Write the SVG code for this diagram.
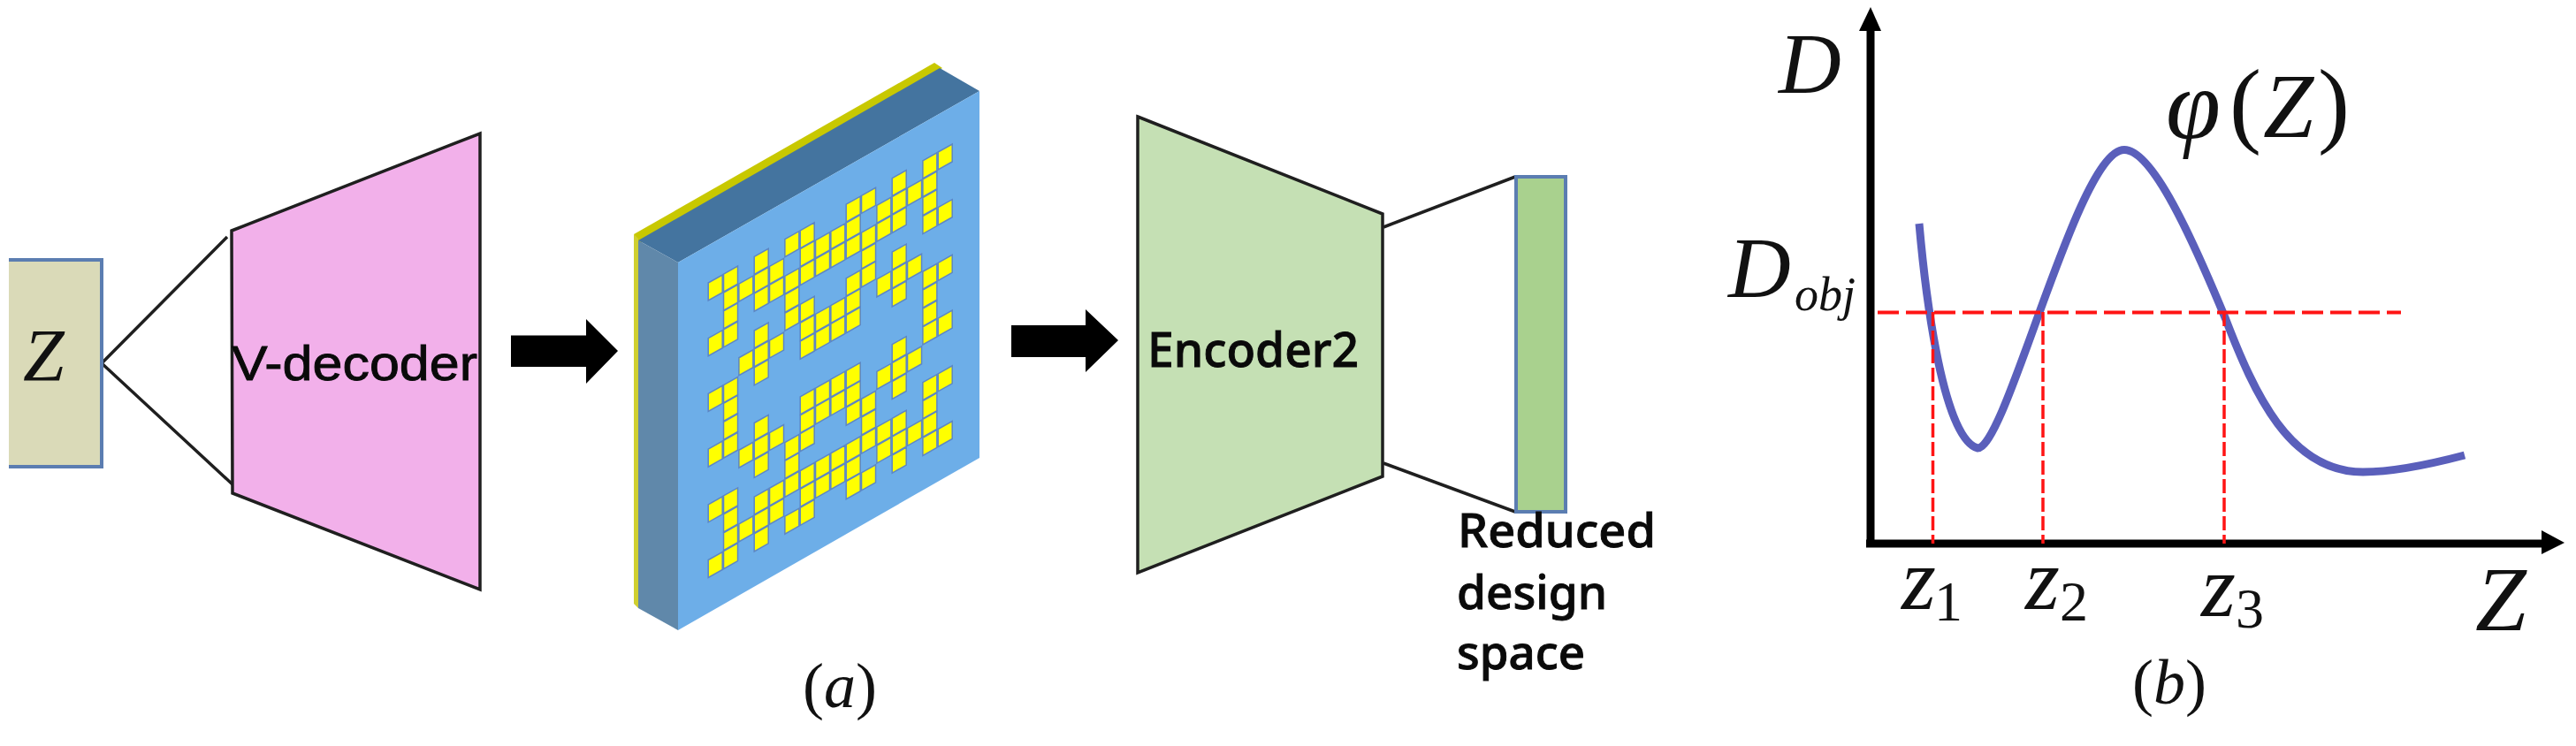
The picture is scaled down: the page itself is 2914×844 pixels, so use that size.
<svg xmlns="http://www.w3.org/2000/svg" width="2914" height="844" viewBox="0 0 2914 844">
<style>
.tr{stroke:#1f1f1f;stroke-width:3.5;stroke-linejoin:miter}
.ln{fill:none;stroke:#1f1f1f;stroke-width:3.5}
.bx{stroke:#5b7db1;stroke-width:4}
.sans{font-family:"Noto Sans","Liberation Sans",sans-serif;fill:#0a0a0a;stroke:#0a0a0a;stroke-width:.9}
.ser{font-family:"Liberation Serif",serif;fill:#111}
.it{font-style:italic}
.dh{fill:none;stroke:#ff1414;stroke-width:4;stroke-dasharray:24 8}
.dv{fill:none;stroke:#ff1414;stroke-width:3.5;stroke-dasharray:16 5}
.cell{fill:#ffff00;stroke:#5d86c4;stroke-width:1.5;stroke-linejoin:miter}
</style>
<defs>
<path id="c" class="cell" d="M-8-5.500L8-14.500V5.500L-8 14.500Z"/>
<g id="A"><use href="#c"/><use href="#c" y="62.7"/><use href="#c" y="125.4"/><use href="#c" y="188.1"/><use href="#c" y="250.8"/><use href="#c" y="313.5"/></g>
<g id="B"><use href="#c"/><use href="#c" y="20.9"/><use href="#c" y="41.8"/><use href="#c" y="62.7"/><use href="#c" y="125.4"/><use href="#c" y="146.3"/><use href="#c" y="167.2"/><use href="#c" y="188.1"/><use href="#c" y="250.8"/><use href="#c" y="271.7"/><use href="#c" y="292.6"/><use href="#c" y="313.5"/></g>
<g id="C"><use href="#c" y="20.9"/><use href="#c" y="104.5"/><use href="#c" y="209"/><use href="#c" y="292.6"/></g>
<g id="D"><use href="#c"/><use href="#c" y="20.9"/><use href="#c" y="41.8"/><use href="#c" y="83.6"/><use href="#c" y="104.5"/><use href="#c" y="125.4"/><use href="#c" y="188.1"/><use href="#c" y="209"/><use href="#c" y="229.9"/><use href="#c" y="271.7"/><use href="#c" y="292.6"/><use href="#c" y="313.5"/></g>
<g id="E"><use href="#c" y="20.9"/><use href="#c" y="41.8"/><use href="#c" y="104.5"/><use href="#c" y="209"/><use href="#c" y="271.7"/><use href="#c" y="292.6"/></g>
<g id="F"><use href="#c"/><use href="#c" y="41.8"/><use href="#c" y="62.7"/><use href="#c" y="83.6"/><use href="#c" y="229.9"/><use href="#c" y="250.8"/><use href="#c" y="271.7"/><use href="#c" y="313.5"/></g>
<g id="G"><use href="#c" y="20.9"/><use href="#c" y="41.8"/><use href="#c" y="104.5"/><use href="#c" y="125.4"/><use href="#c" y="188.1"/><use href="#c" y="209"/><use href="#c" y="271.7"/><use href="#c" y="292.6"/></g>
</defs>
<rect width="2914" height="844" fill="#fff"/>
<g id="connectors">
<path class="ln" d="M257 268L115 411L264 549"/>
<path class="ln" d="M1565 257L1714 200"/>
<path class="ln" d="M1565 524L1714 579"/>
<polygon fill="#000" points="578,379.5 663,379.500 663,361 699,397 663,434 663,415 578,415"/>
<polygon fill="#000" points="1144,368 1228,368 1228,350 1265,385 1228,421 1228,404 1144,404"/>
</g>
<g id="z-input">
<path fill="#dadab8" d="M10 294H115V528H10Z"/>
<path fill="none" class="bx" d="M10 294H115V528H10"/>
<text class="ser it" x="26" y="431" font-size="84">Z</text>
</g>
<g id="v-decoder">
<polygon class="tr" fill="#f2b0ea" points="262,261 543,151 543,667 263,558"/>
<text class="sans" x="262" y="430" font-size="56" style="font-family:'Liberation Sans',sans-serif" textLength="278" lengthAdjust="spacingAndGlyphs">V-decoder</text>
</g>
<g id="metasurface">
<polygon fill="#c8c800" points="717,265 1057,71 1066,77 722,277"/>
<polygon fill="#cfcf30" points="717,265 722,270 722,688 717,683"/>
<polygon fill="#44749f" points="722,272 1063,77 1108,103 767,297"/>
<polygon fill="#6088aa" points="722,272 767,297 767,713 722,688"/>
<polygon fill="#6daee8" points="767,297 1108,103 1108,518 767,713"/>
<g transform="translate(809.2 325.5)">
<use href="#A"/>
<use href="#B" x="17.33" y="-9.87"/>
<use href="#C" x="34.67" y="-19.73"/>
<use href="#D" x="52" y="-29.6"/>
<use href="#E" x="69.33" y="-39.47"/>
<use href="#F" x="86.67" y="-49.33"/>
<use href="#D" x="104" y="-59.2"/>
<use href="#G" x="121.33" y="-69.07"/>
<use href="#G" x="138.67" y="-78.93"/>
<use href="#D" x="156" y="-88.8"/>
<use href="#F" x="173.33" y="-98.67"/>
<use href="#E" x="190.67" y="-108.53"/>
<use href="#D" x="208" y="-118.4"/>
<use href="#C" x="225.33" y="-128.27"/>
<use href="#B" x="242.67" y="-138.13"/>
<use href="#A" x="260" y="-148"/>
</g>
</g>
<g id="encoder2">
<polygon class="tr" fill="#c5e0b4" points="1287,132 1564,242 1564,539 1287,648"/>
<text class="sans" x="1298" y="415" font-size="54" font-weight="500" textLength="239" lengthAdjust="spacingAndGlyphs">Encoder2</text>
</g>
<g id="reduced-space">
<rect class="bx" x="1715" y="200" width="56" height="379" fill="#a9d18e"/>
<text class="sans" x="1649" y="619" font-size="52" font-weight="500" textLength="224" lengthAdjust="spacingAndGlyphs">Reduced</text>
<text class="sans" x="1648" y="689" font-size="52" font-weight="500" textLength="170" lengthAdjust="spacingAndGlyphs">design</text>
<text class="sans" x="1648" y="757" font-size="52" font-weight="500" textLength="145" lengthAdjust="spacingAndGlyphs">space</text>
</g>
<text class="ser" x="908" y="800" font-size="72">(<tspan class="it">a</tspan>)</text>
<g id="plot">
<path d="M2116 619V30" stroke="#000" stroke-width="9" fill="none"/>
<polygon fill="#000" points="2103,35 2116,8 2128,35"/>
<path d="M2111 615H2880" stroke="#000" stroke-width="9" fill="none"/>
<polygon fill="#000" points="2875,600 2901,614 2875,627"/>
<path fill="none" stroke="#5a5fbb" stroke-width="9" d="M2171 253C2176 310 2195 495 2237 507C2270 507 2350 169.5 2403 169.5C2435 169.5 2480 270 2517.5 360.5C2550 445 2590 534 2673 534C2710 534 2750 525 2788 515"/>
<path class="dh" d="M2124 353.5H2716"/>
<path class="dv" d="M2186.500 353V615"/>
<path class="dv" d="M2311 353V615"/>
<path class="dv" d="M2516 353V615"/>
<text class="ser it" x="2012" y="105" font-size="98">D</text>
<text class="ser it" x="2450" y="156" font-size="112">φ</text>
<text class="ser" x="2522" y="153" font-size="108">(</text>
<text class="ser it" x="2560" y="155" font-size="103">Z</text>
<text class="ser" x="2622" y="153" font-size="108">)</text>
<text class="ser it" x="1955" y="336" font-size="98">D</text>
<text class="ser it" x="2030" y="351" font-size="54">obj</text>
<text class="ser it" x="2151" y="689" font-size="100">z</text>
<text class="ser" x="2188" y="702" font-size="64">1</text>
<text class="ser it" x="2291" y="689" font-size="100">z</text>
<text class="ser" x="2330" y="702" font-size="64">2</text>
<text class="ser it" x="2490" y="697" font-size="100">z</text>
<text class="ser" x="2529" y="710" font-size="64">3</text>
<text class="ser it" x="2800" y="713" font-size="104">Z</text>
<text class="ser" x="2412" y="796" font-size="72">(<tspan class="it">b</tspan>)</text>
</g>
</svg>
